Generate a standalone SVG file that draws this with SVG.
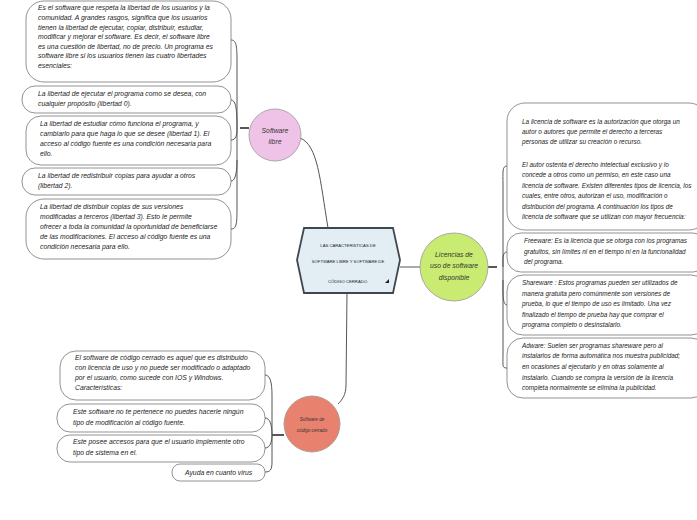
<svg xmlns="http://www.w3.org/2000/svg" width="697" height="520" viewBox="0 0 697 520">
<style>
.b{fill:#fff;stroke:#777;stroke-width:0.8}
.t{font-family:"Liberation Sans",Arial,sans-serif;font-style:italic;font-size:6.8px;fill:#222}
.r{font-size:6.4px}
.c{stroke:#555;stroke-width:1;fill:none}
.k{stroke:#444;stroke-width:1.8;fill:none}
.n{font-family:"Liberation Sans",Arial,sans-serif;font-style:italic;font-size:6.8px;fill:#333;text-anchor:middle}
</style>
<rect width="697" height="520" fill="#fff"/>
<g id="connectors">
<path class="c" d="M300,138 C318,145 320,180 328,228"/>
<path class="c" d="M400,267 L420,267"/>
<path class="c" d="M347,293 L346,385 C346,395 342,400 338,404"/>
<path class="k" d="M240,128 L249,128"/>
<path class="c" d="M231,40 C236,40 237,45 237,60 L237,210 C237,225 236,229 231,229"/>
<path class="c" d="M231,100 C236,100 237,110 237,128 M231,140 C236,140 237,135 237,128 M231,181 C236,181 237,170 237,160"/>
<path class="k" d="M488,267 L497,267"/>
<path class="c" d="M507,166 C502,166 503,172 503,185 L503,355 C503,366 502,368 507,368 M507,252 C502,252 503,260 503,267 M507,305 C502,305 503,290 503,280"/>
<path class="k" d="M272,435 L284,435"/>
<path class="c" d="M265,375 C270,375 272,382 272,395 L272,462 C272,470 270,472 265,472 M265,418 C270,418 272,425 272,435 M265,448 C270,448 272,442 272,435"/>
</g>
<g id="software-libre">
<circle cx="275" cy="135" r="26" fill="#efc3e7" stroke="#999" stroke-width="0.8"/>
<text class="n" x="275" y="133">Software</text><text class="n" x="275" y="144">libre</text>
</g>
<g id="sl1"><rect class="b" x="26" y="1" width="205" height="81" rx="18"/>
<text class="t"><tspan x="38" y="10">Es el software que respeta la libertad de los usuarios y la</tspan><tspan x="38" y="20">comunidad. A grandes rasgos, significa que los usuarios</tspan><tspan x="38" y="29.5">tienen la libertad de ejecutar, copiar, distribuir, estudiar,</tspan><tspan x="38" y="39">modificar y mejorar el software. Es decir, el software libre</tspan><tspan x="38" y="48.5">es una cuestión de libertad, no de precio. Un programa es</tspan><tspan x="38" y="58">software libre si los usuarios tienen las cuatro libertades</tspan><tspan x="38" y="67.5">esenciales:</tspan></text></g>
<g id="sl2"><rect class="b" x="22" y="86" width="209" height="27" rx="13"/>
<text class="t"><tspan x="38" y="96">La libertad de ejecutar el programa como se desea, con</tspan><tspan x="38" y="106">cualquier propósito (libertad 0).</tspan></text></g>
<g id="sl3"><rect class="b" x="26" y="116" width="205" height="49" rx="15"/>
<text class="t"><tspan x="40" y="126">La libertad de estudiar cómo funciona el programa, y</tspan><tspan x="40" y="136">cambiarlo para que haga lo que se desee (libertad 1). El</tspan><tspan x="40" y="146">acceso al código fuente es una condición necesaria para</tspan><tspan x="40" y="156">ello.</tspan></text></g>
<g id="sl4"><rect class="b" x="22" y="168" width="209" height="27" rx="13"/>
<text class="t"><tspan x="38" y="178">La libertad de redistribuir copias para ayudar a otros</tspan><tspan x="38" y="188">(libertad 2).</tspan></text></g>
<g id="sl5"><rect class="b" x="26" y="199" width="205" height="60" rx="18"/>
<text class="t"><tspan x="40" y="209">La libertad de distribuir copias de sus versiones</tspan><tspan x="40" y="219">modificadas a terceros (libertad 3). Esto le permite</tspan><tspan x="40" y="229">ofrecer a toda la comunidad la oportunidad de beneficiarse</tspan><tspan x="40" y="239">de las modificaciones. El acceso al código fuente es una</tspan><tspan x="40" y="249">condición necesaria para ello.</tspan></text></g>
<g id="central">
<polygon points="304,228 393,228 400,260 393,293 304,293 297,260" fill="#e2edf4" stroke="#3f484e" stroke-width="1.8"/>
<text font-family="Liberation Sans,Arial,sans-serif" font-size="4.2" fill="#222" text-anchor="middle"><tspan x="348" y="247">LAS CARACTERÍSTICAS DE</tspan><tspan x="348" y="263">SOFTWARE LIBRE Y SOFTWARE DE</tspan><tspan x="348" y="283">CÓDIGO CERRADO.</tspan></text>
<polygon points="385,283 389,283 389,279" fill="#222"/>
</g>
<g id="licencias">
<circle cx="454" cy="267" r="34" fill="#c9eb72" stroke="#999" stroke-width="0.8"/>
<text class="n"><tspan x="454" y="257">Licencias de</tspan><tspan x="454" y="268">uso de software</tspan><tspan x="454" y="280">disponible</tspan></text>
</g>
<g id="li1"><rect class="b" x="507" y="103" width="200" height="127" rx="18"/>
<text class="t r"><tspan x="522" y="124">La licencia de software es la autorización que otorga un</tspan><tspan x="522" y="134">autor o autores que permite el derecho a terceras</tspan><tspan x="522" y="144">personas de utilizar su creación o recurso.</tspan><tspan x="522" y="167">El autor ostenta el derecho intelectual  exclusivo y lo</tspan><tspan x="522" y="177">concede a otros como un permiso, en este caso una</tspan><tspan x="522" y="188">licencia de software. Existen diferentes tipos de licencia, los</tspan><tspan x="522" y="198">cuales, entre otros, autorizan el uso, modificación o</tspan><tspan x="522" y="209">distribución del programa. A continuación los tipos de</tspan><tspan x="522" y="219">licencia de software que se utilizan con mayor frecuencia:</tspan></text></g>
<g id="li2"><rect class="b" x="507" y="233" width="200" height="39" rx="14"/>
<text class="t r"><tspan x="524" y="243">Freeware: Es la licencia que se otorga con los programas</tspan><tspan x="524" y="254">gratuitos, sin límites ni en el tiempo ni en la funcionalidad</tspan><tspan x="524" y="264">del programa.</tspan></text></g>
<g id="li3"><rect class="b" x="507" y="275" width="200" height="60" rx="16"/>
<text class="t r"><tspan x="522" y="285">Shareware : Estos programas pueden ser utilizados de</tspan><tspan x="522" y="296">manera gratuita pero comúnmente son versiones de</tspan><tspan x="522" y="306">prueba, lo que el tiempo de uso es limitado. Una vez</tspan><tspan x="522" y="317">finalizado el tiempo de prueba hay que comprar el</tspan><tspan x="522" y="327">programa completo o desinstalarlo.</tspan></text></g>
<g id="li4"><rect class="b" x="507" y="338" width="200" height="60" rx="16"/>
<text class="t r"><tspan x="522" y="348">Adware: Suelen ser programas shareware pero al</tspan><tspan x="522" y="358">instalarlos de forma automática nos muestra publicidad;</tspan><tspan x="522" y="369">en ocasiones al ejecutarlo y en otras solamente al</tspan><tspan x="522" y="380">instalarlo. Cuando se compra la versión de la licencia</tspan><tspan x="522" y="390">completa normalmente se elimina la publicidad.</tspan></text></g>
<g id="codigo-cerrado">
<circle cx="312" cy="424" r="28" fill="#e8826f" stroke="#999" stroke-width="0.8"/>
<text font-family="Liberation Sans,Arial,sans-serif" font-style="italic" font-size="4.6" fill="#333" text-anchor="middle"><tspan x="312" y="421">Software de</tspan><tspan x="312" y="432">código cerrado</tspan></text>
</g>
<g id="cc1"><rect class="b" x="60" y="351" width="205" height="49" rx="16"/>
<text class="t"><tspan x="75" y="360">El software de código cerrado es aquel que es distribuido</tspan><tspan x="75" y="370">con licencia de uso y no puede ser modificado o adaptado</tspan><tspan x="75" y="380">por el usuario, como sucede con IOS y Windows.</tspan><tspan x="75" y="390">Características:</tspan></text></g>
<g id="cc2"><rect class="b" x="57" y="404" width="208" height="28" rx="13"/>
<text class="t"><tspan x="73" y="414">Este software no te pertenece no puedes hacerle ningún</tspan><tspan x="73" y="425">tipo de modificación al código fuente.</tspan></text></g>
<g id="cc3"><rect class="b" x="57" y="435" width="208" height="27" rx="13"/>
<text class="t"><tspan x="73" y="444">Este posee accesos para que el usuario implemente otro</tspan><tspan x="73" y="455">tipo de sistema en el.</tspan></text></g>
<g id="cc4"><rect class="b" x="172" y="464" width="93" height="17" rx="8"/>
<text class="t" x="185" y="475">Ayuda en cuanto virus</text></g>
</svg>
